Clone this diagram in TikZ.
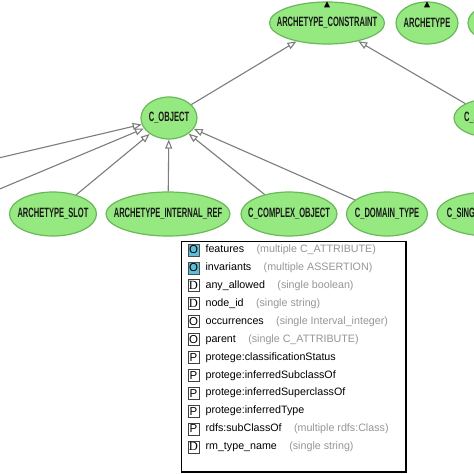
\documentclass[tikz,border=0pt]{standalone}
\usepackage{fontspec}
\setmainfont{Liberation Sans}
\newfontfamily\ovalfont[FakeStretch=0.56]{Liberation Sans}
\newfontfamily\iconserif{Liberation Serif}
\usetikzlibrary{arrows.meta,shapes.geometric,positioning}

\definecolor{ovalfill}{RGB}{150,232,128}
\definecolor{ovaledge}{RGB}{105,185,90}
\definecolor{linkgray}{RGB}{125,125,125}
\definecolor{typegray}{RGB}{150,150,150}
\definecolor{iconblue}{RGB}{95,190,215}

\newcommand{\ovaltext}[1]{\makebox[0pt]{#1}}

\tikzset{
	cls/.style={ellipse, draw=ovaledge, fill=ovalfill, line width=1.2pt, inner sep=0pt,
		minimum height=42pt, text=black!90, font=\ovalfont\bfseries\fontsize{13.5}{15}\selectfont},
	isa/.style={draw=linkgray, line width=1.1pt, -{Triangle[length=9pt, width=7pt, fill=white]}},
	iconw/.style={draw=black!75, line width=0.7pt, fill=white, minimum width=11pt, minimum height=12pt,
		inner sep=0pt, font=\fontsize{11.5}{11.5}\selectfont},
	iconb/.style={iconw, fill=iconblue, draw=black!70},
	icons/.style={iconw, font=\iconserif\fontsize{12.5}{12.5}\selectfont},
	slotname/.style={inner sep=0pt, text height=8pt, text depth=2.5pt, font=\fontsize{10.7}{12}\selectfont},
	slottype/.style={slotname, text=typegray}
}

\begin{document}
\begin{tikzpicture}[x=1pt,y=1pt]
	\useasboundingbox (0,0) rectangle (474,-474);
	\clip (0,0) rectangle (474,-474);
	\fill[white] (0,0) rectangle (474,-474);

	% top row
	\node[cls, minimum width=115pt] (acons) at (327,-23) {\ovaltext{ARCHETYPE\_CONSTRAINT}};
	\node[cls, minimum width=62pt] (arch) at (427,-23) {\ovaltext{ARCHETYPE}};
	\node[cls, minimum width=74pt] (hidden) at (505,-23) {};
	\fill (acons.north) -- ++(3,-6) -- ++(-6,0) -- cycle;
	\fill (arch.north) -- ++(3,-6) -- ++(-6,0) -- cycle;

	% middle row
	\node[cls, minimum width=56pt] (cobj) at (169,-118) {\ovaltext{C\_OBJECT}};
	\node[cls, minimum width=72pt, minimum height=38pt] (cattr) at (490,-118) {\ovaltext{C\_ATTRIBUTE}};

	% bottom row
	\node[cls, minimum width=87pt, minimum height=44pt] (aslot) at (53,-214) {\ovaltext{ARCHETYPE\_SLOT}};
	\node[cls, minimum width=124pt, minimum height=44pt] (aref) at (168,-214) {\ovaltext{ARCHETYPE\_INTERNAL\_REF}};
	\node[cls, minimum width=96pt, minimum height=44pt] (ccomplex) at (289,-214) {\ovaltext{C\_COMPLEX\_OBJECT}};
	\node[cls, minimum width=81pt, minimum height=44pt] (cdomain) at (387,-214) {\ovaltext{C\_DOMAIN\_TYPE}};
	\node[cls, minimum width=104pt, minimum height=44pt] (csingle) at (489,-214) {\ovaltext{C\_SINGLE\_ATTRIBUTE}};
	\coordinate (farleft) at (-240,-214);
	\coordinate (nearleft) at (-60,-214);

	% inheritance
	\draw[isa] (cobj) -- (acons);
	\draw[isa] (cattr) -- (acons);
	\draw[isa] (farleft) -- (cobj);
	\draw[isa] (nearleft) -- (cobj);
	\draw[isa] (aslot) -- (cobj);
	\draw[isa] (aref) -- (cobj);
	\draw[isa] (ccomplex) -- (cobj);
	\draw[isa] (cdomain) -- (cobj);

	% slot list
	\node[draw, fill=white, line width=0.8pt, minimum width=224pt, minimum height=230pt, anchor=north west] (slots) at (181,-241) {};
	\draw[line width=2.5pt] (slots.south west) -- (slots.south east) -- (slots.north east);
	\foreach \k/\l/\n/\t [count=\i] in {
		iconb/O/features/(multiple C\_ATTRIBUTE),
		iconb/O/invariants/(multiple ASSERTION),
		icons/D/any\_allowed/(single boolean),
		icons/D/node\_id/(single string),
		iconw/O/occurrences/(single Interval\_integer),
		iconw/O/parent/(single C\_ATTRIBUTE),
		iconw/P/protege:classificationStatus/{},
		iconw/P/protege:inferredSubclassOf/{},
		iconw/P/protege:inferredSuperclassOf/{},
		iconw/P/protege:inferredType/{},
		iconw/P/rdfs:subClassOf/(multiple rdfs:Class),
		icons/D/rm\_type\_name/(single string)}
	{
		\node[\k] (ic\i) at (193.5,{-232.1-\i*17.9}) {\l};
		\node[slotname, right=6pt of ic\i] (nm\i) {\n};
		\node[slottype, right=12pt of nm\i] (ty\i) {\t};
	}
\end{tikzpicture}
\end{document}
